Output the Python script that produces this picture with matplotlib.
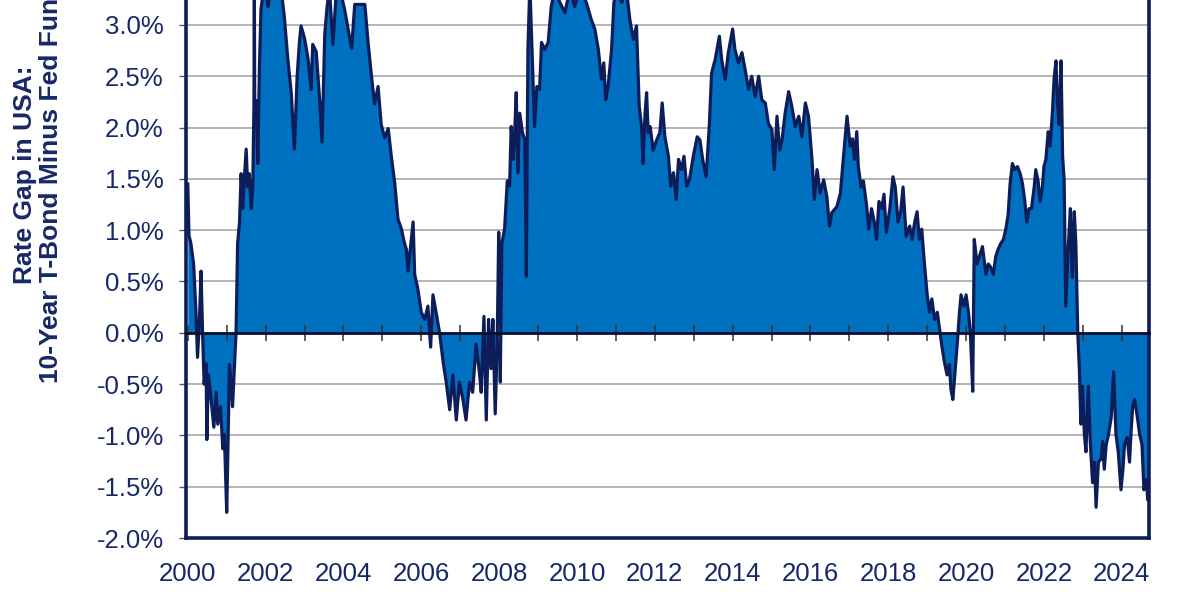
import matplotlib
matplotlib.use('Agg')
import matplotlib.pyplot as plt
from matplotlib.ticker import FuncFormatter

plt.rcParams['font.family'] = ['Liberation Sans', 'DejaVu Sans']

# ---- data ----
years = [
    2000.00, 2000.03, 2000.08, 2000.15, 2000.21, 2000.25, 2000.30, 2000.34, 2000.38, 2000.42,
    2000.47, 2000.49, 2000.53, 2000.60, 2000.67, 2000.73, 2000.77, 2000.84, 2000.90, 2000.94,
    2001.00, 2001.03, 2001.07, 2001.11, 2001.15, 2001.20, 2001.24, 2001.28, 2001.33, 2001.37,
    2001.41, 2001.45, 2001.50, 2001.54, 2001.58, 2001.63, 2001.67, 2001.70, 2001.71, 2001.72,
    2001.76, 2001.80, 2001.84, 2001.88, 2001.97, 2002.06, 2002.14, 2002.27, 2002.40, 2002.48,
    2002.57, 2002.66, 2002.74, 2002.81, 2002.87, 2002.91, 2003.00, 2003.09, 2003.17, 2003.21,
    2003.30, 2003.39, 2003.45, 2003.52, 2003.58, 2003.64, 2003.73, 2003.82, 2003.94,
    2004.03, 2004.21, 2004.29, 2004.55, 2004.63, 2004.72, 2004.80, 2004.89, 2004.97, 2005.06,
    2005.15, 2005.23, 2005.32, 2005.40, 2005.49, 2005.57, 2005.62, 2005.66, 2005.79, 2005.83,
    2005.91, 2006.00, 2006.09, 2006.17, 2006.24, 2006.30, 2006.38, 2006.47, 2006.56, 2006.64,
    2006.73, 2006.81, 2006.90, 2006.98, 2007.07, 2007.15, 2007.24, 2007.32, 2007.41, 2007.50,
    2007.54, 2007.61, 2007.67, 2007.73, 2007.79, 2007.84, 2007.90, 2007.95, 2007.99, 2008.03,
    2008.07, 2008.14, 2008.21,
    2008.27, 2008.31, 2008.36, 2008.40, 2008.44, 2008.48, 2008.53, 2008.60, 2008.66, 2008.70,
    2008.74, 2008.79, 2008.85, 2008.91, 2008.97, 2009.04, 2009.09, 2009.17, 2009.26, 2009.34,
    2009.43, 2009.56, 2009.69, 2009.82, 2009.94, 2010.07, 2010.24, 2010.37, 2010.46, 2010.55,
    2010.63, 2010.69, 2010.74, 2010.80, 2010.89, 2010.95, 2011.03, 2011.15, 2011.27, 2011.36,
    2011.45, 2011.53, 2011.60, 2011.66, 2011.70, 2011.75, 2011.79, 2011.83, 2011.88, 2011.96,
    2012.05, 2012.13, 2012.19, 2012.26, 2012.35, 2012.41, 2012.48, 2012.55, 2012.61, 2012.69,
    2012.75, 2012.82, 2012.89, 2012.99, 2013.09, 2013.16, 2013.23, 2013.32, 2013.40, 2013.46,
    2013.55, 2013.66, 2013.72, 2013.81, 2013.89, 2014.00, 2014.06, 2014.15, 2014.24, 2014.32,
    2014.41, 2014.49, 2014.58, 2014.67, 2014.75, 2014.84, 2014.92, 2015.01, 2015.07, 2015.14,
    2015.21, 2015.27, 2015.35, 2015.44, 2015.52, 2015.61, 2015.70, 2015.78, 2015.87, 2015.95,
    2016.04, 2016.10, 2016.17, 2016.25, 2016.34, 2016.42, 2016.49, 2016.55, 2016.68, 2016.77,
    2016.85, 2016.94,
    2017.02, 2017.08, 2017.13, 2017.19, 2017.23, 2017.30, 2017.36, 2017.44, 2017.50, 2017.57,
    2017.64, 2017.70, 2017.76, 2017.83, 2017.89, 2017.95, 2018.04, 2018.12, 2018.18, 2018.25,
    2018.32, 2018.38, 2018.46, 2018.55, 2018.61, 2018.68, 2018.74, 2018.80, 2018.86, 2018.93,
    2019.00, 2019.06, 2019.12, 2019.19, 2019.26, 2019.31, 2019.37, 2019.44, 2019.51, 2019.57,
    2019.61, 2019.66, 2019.71, 2019.78, 2019.83, 2019.87, 2019.94, 2020.00, 2020.06, 2020.11,
    2020.17, 2020.21, 2020.28, 2020.34, 2020.42, 2020.51, 2020.57,
    2020.63, 2020.70, 2020.76, 2020.82, 2020.89, 2020.96, 2021.02, 2021.08, 2021.13, 2021.19,
    2021.25, 2021.32, 2021.39, 2021.45, 2021.51, 2021.56, 2021.62, 2021.68, 2021.75, 2021.79,
    2021.85, 2021.90, 2021.96, 2022.00, 2022.05, 2022.11, 2022.16, 2022.22, 2022.26, 2022.31,
    2022.35, 2022.39, 2022.44, 2022.48, 2022.52, 2022.56, 2022.63, 2022.68, 2022.73, 2022.78,
    2022.82, 2022.87, 2022.91, 2022.95, 2022.99, 2023.04, 2023.08, 2023.14, 2023.19, 2023.25,
    2023.30, 2023.34, 2023.40, 2023.47, 2023.51, 2023.55, 2023.60, 2023.66, 2023.73, 2023.79,
    2023.85, 2023.91, 2023.98, 2024.03, 2024.07, 2024.14, 2024.20, 2024.24, 2024.28, 2024.33,
    2024.40, 2024.46, 2024.52, 2024.57, 2024.63, 2024.67, 2024.71,
]

gap = [
    1.45, 0.95, 0.87, 0.67, 0.20, -0.24, 0.13, 0.60, 0.00, -0.50,
    -0.30, -1.04, -0.41, -0.65, -0.92, -0.58, -0.89, -0.72, -1.13, -0.99,
    -1.75, -1.16, -0.31, -0.48, -0.72, -0.31, 0.00, 0.87, 1.08, 1.55,
    1.21, 1.48, 1.79, 1.42, 1.55, 1.21, 1.42, 2.23, 3.40, 2.26,
    2.26, 1.65, 2.57, 3.15, 3.40, 3.18, 3.35, 3.35, 3.35, 3.08,
    2.67, 2.33, 1.79, 2.50, 2.84, 2.99, 2.87, 2.67, 2.37, 2.81,
    2.74, 2.26, 1.86, 2.91, 3.18, 3.35, 2.81, 3.35, 3.30,
    3.15, 2.77, 3.20, 3.20, 2.84, 2.50, 2.23, 2.40, 2.03, 1.90,
    1.99, 1.72, 1.45, 1.11, 1.01, 0.87, 0.81, 0.60, 1.08, 0.57,
    0.43, 0.20, 0.13, 0.26, -0.14, 0.37, 0.20, 0.00, -0.28, -0.48,
    -0.75, -0.41, -0.85, -0.48, -0.65, -0.85, -0.48, -0.58, -0.11, -0.41,
    -0.58, 0.16, -0.85, 0.13, -0.35, 0.13, -0.79, -0.11, 0.98, -0.48,
    0.87, 1.01, 1.48,
    1.43, 2.01, 1.69, 1.95, 2.34, 1.56, 2.14, 1.95, 1.88, 0.55,
    2.76, 3.40, 2.70, 2.01, 2.40, 2.37, 2.83, 2.76, 2.83, 3.18,
    3.35, 3.22, 3.12, 3.35, 3.18, 3.35, 3.22, 3.05, 2.96, 2.76,
    2.47, 2.63, 2.27, 2.40, 2.76, 3.22, 3.35, 3.22, 3.35, 3.05,
    2.86, 2.99, 2.21, 2.01, 1.65, 2.14, 2.34, 1.95, 2.01, 1.78,
    1.88, 1.95, 2.24, 1.91, 1.72, 1.43, 1.56, 1.30, 1.69, 1.59,
    1.72, 1.43, 1.49, 1.72, 1.91, 1.88, 1.69, 1.52, 2.01, 2.53,
    2.66, 2.89, 2.66, 2.47, 2.73, 2.96, 2.76, 2.63, 2.73, 2.57,
    2.37, 2.50, 2.30, 2.50, 2.27, 2.24, 2.04, 1.98, 1.59, 2.11,
    1.78, 1.88, 2.14, 2.35, 2.21, 2.01, 2.11, 1.91, 2.24, 2.11,
    1.69, 1.30, 1.59, 1.36, 1.49, 1.33, 1.04, 1.17, 1.23, 1.36,
    1.72, 2.11,
    1.82, 1.89, 1.69, 1.96, 1.62, 1.42, 1.48, 1.25, 1.01, 1.21,
    1.08, 0.91, 1.28, 1.21, 1.35, 0.98, 1.21, 1.52, 1.42, 1.08,
    1.18, 1.42, 0.94, 1.04, 0.91, 1.08, 1.18, 0.91, 1.01, 0.67,
    0.37, 0.20, 0.33, 0.13, 0.20, 0.06, -0.11, -0.28, -0.41, -0.31,
    -0.55, -0.65, -0.41, -0.07, 0.20, 0.37, 0.26, 0.37, 0.20, 0.00,
    -0.57, 0.91, 0.67, 0.74, 0.84, 0.57, 0.67,
    0.64, 0.57, 0.74, 0.81, 0.87, 0.91, 1.01, 1.15, 1.45, 1.65,
    1.59, 1.62, 1.55, 1.45, 1.28, 1.08, 1.21, 1.21, 1.42, 1.59,
    1.48, 1.28, 1.42, 1.62, 1.69, 1.96, 1.82, 2.16, 2.47, 2.65,
    2.23, 2.03, 2.65, 1.72, 1.48, 0.26, 0.87, 1.21, 0.54, 1.18,
    0.87, 0.00, -0.35, -0.89, -0.52, -0.99, -1.16, -0.52, -1.06, -1.46,
    -1.26, -1.70, -1.26, -1.23, -1.06, -1.33, -1.09, -0.99, -0.82, -0.38,
    -0.99, -1.16, -1.53, -1.33, -1.09, -1.02, -1.26, -0.96, -0.72, -0.65,
    -0.82, -0.99, -1.09, -1.53, -1.43, -1.63, -1.57,
]

y_ticks = [-2.0, -1.5, -1.0, -0.5, 0.0, 0.5, 1.0, 1.5, 2.0, 2.5, 3.0]
label_years = list(range(2000, 2025, 2))
tick_years = list(range(2000, 2025))
y_label = "Rate Gap in USA:\n10-Year T-Bond Minus Fed Funds"

NAVY = '#0D1D5A'
FILL = '#0070C0'
TEXT = '#162868'

fig = plt.figure(figsize=(12, 6), dpi=100)
ax = fig.add_axes([0.155, 0.1033, 0.8025, 0.8967])
ax.set_xlim(1999.954, 2024.70)
ax.set_ylim(-2.0, 3.243)

ax.fill_between(years, gap, 0, color=FILL, lw=0, zorder=2)
ax.plot(years, gap, color=NAVY, lw=2.3, zorder=3)

ax.set_yticks(y_ticks)
ax.yaxis.set_major_formatter(FuncFormatter(lambda v, p: f'{v:.1f}%'))
ax.grid(axis='y', color='#A8A8A8', lw=1.2, zorder=1)
ax.set_axisbelow(True)
ax.set_xticks(label_years)
ax.set_xticklabels([str(y) for y in label_years])
ax.tick_params(axis='x', length=0, pad=17, labelsize=18.5, labelcolor=TEXT)
ax.tick_params(axis='y', length=5, width=1, color='#555555', pad=11,
               labelsize=18.5, labelcolor=TEXT)
for s in ['left', 'bottom', 'right']:
    ax.spines[s].set_color(NAVY)
    ax.spines[s].set_linewidth(2.6)
ax.spines['top'].set_visible(False)

# zero line with yearly tick marks
ax2 = ax.twiny()
ax2.set_xlim(ax.get_xlim())
for s in ['left', 'right', 'top']:
    ax2.spines[s].set_visible(False)
ax2.spines['bottom'].set_position(('data', 0))
ax2.spines['bottom'].set_color('#0A0F30')
ax2.spines['bottom'].set_linewidth(2.0)
ax2.xaxis.set_ticks_position('bottom')
ax2.set_xticks(tick_years)
ax2.tick_params(axis='x', direction='inout', length=12, width=1.1, color='#333333',
                labelbottom=False, labeltop=False)

fig.text(0.032, 0.708, y_label, rotation=90, ha='center', va='center',
         fontsize=19, fontweight='bold', color=TEXT, linespacing=1.1,
         multialignment='center')

fig.savefig('out.png', dpi=100)
